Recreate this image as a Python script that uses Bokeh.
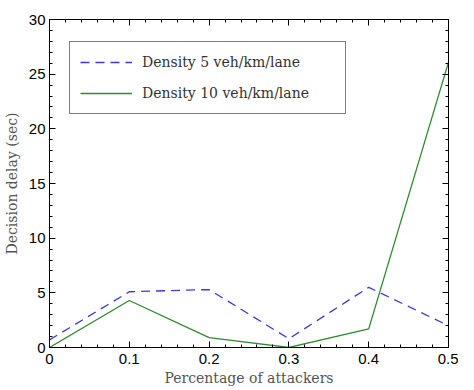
from bokeh.plotting import figure
from bokeh.models import LinearAxis, FixedTicker, Range1d, Legend, LegendItem
from bokeh.embed import file_html
from bokeh.resources import INLINE

x_vals = [0, 0.1, 0.2, 0.3, 0.4, 0.5]
density5 = [0.7, 5.1, 5.3, 0.8, 5.5, 2.0]
density10 = [0.0, 4.3, 0.9, 0.0, 1.7, 26.1]
x_ticks = [0, 0.1, 0.2, 0.3, 0.4, 0.5]
y_ticks = [0, 5, 10, 15, 20, 25, 30]
label5 = "Density 5 veh/km/lane"
label10 = "Density 10 veh/km/lane"

SERIF = "DejaVu Serif"
SANS = "Liberation Sans"

p = figure(width=458, height=388, output_backend="svg", toolbar_location=None,
           x_range=Range1d(0, 0.5), y_range=Range1d(0, 30),
           min_border_left=10, min_border_right=10, min_border_top=19, min_border_bottom=10,
           background_fill_color="white", border_fill_color="white")
p.outline_line_color = "black"
p.outline_line_width = 1
p.grid.visible = False

def style_axis(ax, ticks, show_labels, minor):
    ax.ticker = FixedTicker(ticks=ticks, minor_ticks=minor)
    ax.major_tick_in = 6
    ax.major_tick_out = 0
    ax.minor_tick_in = 3
    ax.minor_tick_out = 0
    ax.axis_line_color = "black"
    ax.major_tick_line_color = "black"
    ax.minor_tick_line_color = "black"
    if show_labels:
        ax.major_label_text_font = SANS
        ax.major_label_text_font_size = "15px"
        ax.major_label_text_color = "black"
    else:
        ax.major_label_overrides = {t: "" for t in ticks}
        ax.major_label_standoff = 0

x_minor = [round(i * 0.02, 2) for i in range(26)]
y_minor = list(range(31))

xa = p.xaxis[0]
ya = p.yaxis[0]
style_axis(xa, x_ticks, True, x_minor)
style_axis(ya, y_ticks, True, y_minor)
xa.major_label_overrides = {0: "0", 0.1: "0.1", 0.2: "0.2", 0.3: "0.3", 0.4: "0.4", 0.5: "0.5"}
xa.major_label_standoff = 6
ya.major_label_standoff = 4
xa.axis_label = "Percentage of attackers"
ya.axis_label = "Decision delay (sec)"
for ax in (xa, ya):
    ax.axis_label_text_font = SERIF
    ax.axis_label_text_font_size = "14px"
    ax.axis_label_text_font_style = "normal"
    ax.axis_label_text_color = "#555555"
xa.axis_label_standoff = 3
ya.axis_label_standoff = 6

top = LinearAxis()
style_axis(top, x_ticks, False, x_minor)
p.add_layout(top, "above")
right = LinearAxis()
style_axis(right, y_ticks, False, y_minor)
p.add_layout(right, "right")

r5 = p.line(x_vals, density5, line_color="#3a3ad8", line_width=1.3, line_dash="9 6")
r10 = p.line(x_vals, density10, line_color="#2e8b2e", line_width=1.3)

legend = Legend(items=[LegendItem(label=label5, renderers=[r5]),
                       LegendItem(label=label10, renderers=[r10])],
                location=(20, 233))
legend.border_line_color = "black"
legend.border_line_width = 1
legend.background_fill_alpha = 1
legend.label_text_font = SERIF
legend.label_text_font_size = "14px"
legend.label_text_color = "#333333"
legend.glyph_width = 52
legend.label_standoff = 10
legend.padding = 10
legend.spacing = 11
legend.margin = 0
legend.label_width = 193
p.add_layout(legend, "center")

open("out.html", "w").write(file_html(p, INLINE))
